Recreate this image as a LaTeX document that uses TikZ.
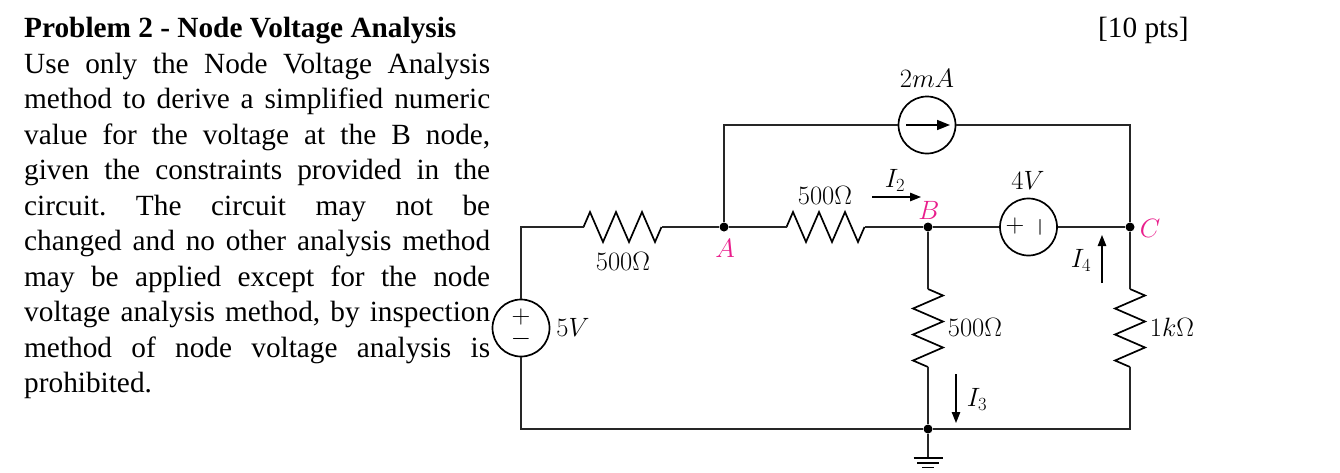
\RequirePackage{fix-cm}
\documentclass[tikz,border=0pt]{standalone}
\usepackage{fontspec}
\newfontfamily\tnr{Liberation Serif}
\usetikzlibrary{arrows.meta}
\definecolor{nodepink}{RGB}{233,30,140}
\frenchspacing
\tikzset{
  wire/.style={line width=1.1pt, draw=black!85},
  comp/.style={line width=1.7pt, line join=miter},
  src/.style={circle, draw, line width=1.7pt, minimum size=57pt, inner sep=0pt},
  dotnode/.style={circle, fill, inner sep=0pt, minimum size=9pt},
  lbl/.style={font=\fontsize{26.5}{30}\selectfont, inner sep=0pt},
  sgn/.style={font=\fontsize{26}{30}\selectfont, inner sep=0pt},
  nlbl/.style={lbl, text=nodepink},
  body/.style={font=\tnr\fontsize{29.3}{35}\selectfont, anchor=base west, inner sep=0pt},
  cur/.style={line width=1.2pt, -{Triangle[length=11pt,width=8.5pt]}},
  hres/.pic={\draw[comp] (-39,0) coordinate (-a) -- (-32.5,-15) -- (-19.5,15) -- (-6.5,-15) -- (6.5,15) -- (19.5,-15) -- (32.5,15) -- (39,0) coordinate (-b);},
  vres/.pic={\draw[comp] (0,-39) coordinate (-a) -- (15,-32.5) -- (-15,-19.5) -- (15,-6.5) -- (-15,6.5) -- (15,19.5) -- (-15,32.5) -- (0,39) coordinate (-b);},
}
\begin{document}
\begin{tikzpicture}[x=1pt,y=-1pt]
\useasboundingbox (0,0) rectangle (1340,472);

% ---- text ----
\node[body] (t1) at (24,37.5) {\textbf{Problem 2 - Node Voltage Analysis}};
\node[body] (t2) at (24,73) {\makebox[466pt][s]{Use only the Node Voltage Analysis}};
\node[body] (t3) at (24,108.5) {\makebox[466pt][s]{method to derive a simplified numeric}};
\node[body] (t4) at (24,144) {\makebox[466pt][s]{value for the voltage at the B node,}};
\node[body] (t5) at (24,179.5) {\makebox[466pt][s]{given the constraints provided in the}};
\node[body] (t6) at (24,215) {\makebox[466pt][s]{circuit. The circuit may not be}};
\node[body] (t7) at (24,250.5) {\makebox[466pt][s]{changed and no other analysis method}};
\node[body] (t8) at (24,286) {\makebox[466pt][s]{may be applied except for the node}};
\node[body] (t9) at (24,321.5) {\makebox[466pt][s]{voltage analysis method, by inspection}};
\node[body] (t10) at (24,357) {\makebox[466pt][s]{method of node voltage analysis is}};
\node[body] (t11) at (24,392) {prohibited.};
\node[body] (pts) at (1098,37.5) {[10 pts]};

% ---- components ----
\node[src] (V5) at (521,328) {};
\node[sgn] (V5p) at (521,317) {$+$};
\node[sgn] (V5m) at (521,339) {$-$};
\node[lbl] (V5l) at (573,327) {$5V$};

\pic (R1) at (622.5,227) {hres};
\node[lbl] (R1l) at (623,261) {$500\Omega$};

\node[dotnode] (A) at (724,227) {};
\node[nlbl] (Al) at (725,248) {$A$};

\pic (R2) at (825.5,227) {hres};
\node[lbl] (R2l) at (825,195) {$500\Omega$};

\node[dotnode] (B) at (928,227) {};
\node[nlbl] (Bl) at (929,210) {$B$};

\node[src] (V4) at (1028.5,227) {};
\node[sgn] (V4p) at (1015,226) {$+$};
\node[sgn, rotate=90] (V4m) at (1040,227) {$-$};
\node[lbl] (V4l) at (1028,180) {$4V$};

\node[dotnode] (C) at (1130,227) {};
\node[nlbl] (Cl) at (1150,228) {$C$};

\node[src] (Is) at (927,125) {};
\node[lbl] (Isl) at (927,78) {$2mA$};
\coordinate (Isa) at (906,125);
\coordinate (Isb) at (950,125);
\draw[line width=1.7pt, -{Triangle[length=13pt,width=10pt]}] (Isa) -- (Isb);

\pic (R3) at (928,328) {vres};
\node[lbl] (R3l) at (975,327) {$500\Omega$};

\pic (R4) at (1130,328) {vres};
\node[lbl] (R4l) at (1172,327) {$1k\Omega$};

\node[dotnode] (G) at (928,429) {};

% ---- wires ----
\draw[wire] (V5.north) |- (R1-a);
\draw[wire] (R1-b) -- (A) -- (R2-a);
\draw[wire] (R2-b) -- (B) -- (V4.west);
\draw[wire] (V4.east) -- (C);
\draw[wire] (A) |- (Is.west);
\draw[wire] (Is.east) -| (C);
\draw[wire] (B) -- (R3-a);
\draw[wire] (R3-b) -- (G);
\draw[wire] (C) -- (R4-a);
\draw[wire] (R4-b) |- (G);
\draw[wire] (V5.south) |- (G);

% ---- ground ----
\coordinate (gnd) at (928,458);
\draw[wire] (G) -- (gnd);
\draw[line width=1.5pt] ([xshift=-14.5pt]gnd) -- ([xshift=14.5pt]gnd);
\draw[line width=1.5pt] ([xshift=-11pt,yshift=-4.8pt]gnd) -- ([xshift=11pt,yshift=-4.8pt]gnd);
\draw[line width=1.5pt] ([xshift=-6pt,yshift=-9.3pt]gnd) -- ([xshift=6pt,yshift=-9.3pt]gnd);

% ---- current arrows ----
\coordinate (i2a) at (872,197);
\coordinate (i2b) at (921,197);
\draw[cur] (i2a) -- (i2b);
\node[lbl] (I2) at (895,180) {$I_2$};

\coordinate (i4a) at (1102,283);
\coordinate (i4b) at (1102,235);
\draw[cur] (i4a) -- (i4b);
\node[lbl] (I4) at (1081,260) {$I_4$};

\coordinate (i3a) at (956,374);
\coordinate (i3b) at (956,423);
\draw[cur] (i3a) -- (i3b);
\node[lbl] (I3) at (977,399) {$I_3$};
\end{tikzpicture}
\end{document}
